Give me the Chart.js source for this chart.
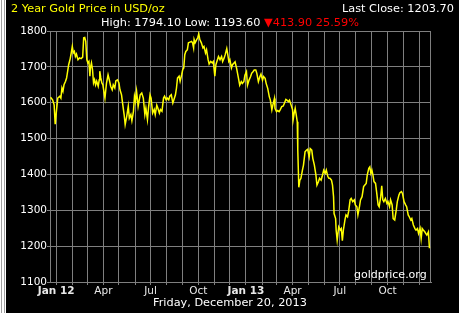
<!DOCTYPE html>
<html>
<head>
<meta charset="utf-8">
<script src="https://cdn.jsdelivr.net/npm/chart.js@4.4.1/dist/chart.umd.min.js"></script>
<style>
  html, body { margin: 0; padding: 0; background: #fff; }
  #wrap { position: relative; width: 459px; height: 313px; overflow: hidden; }
  #chart { position: absolute; left: 0; top: 0; }
  .txt { position: absolute; font-family: 'DejaVu Sans', Verdana, sans-serif; font-size: 11.3px; line-height: 1; white-space: nowrap; color: #fff; }
  .vline { position: absolute; top: 0; width: 1px; height: 313px; background: #a0a0a0; }
</style>
</head>
<body>
<div id="wrap">
  <canvas id="chart" width="459" height="313"></canvas>
  <div class="vline" style="left:1px"></div>
  <div class="vline" style="left:4px"></div>
  <div class="txt" id="title" style="left:11px;top:3px;color:#ffff00"></div>
  <div class="txt" id="lastClose" style="right:5px;top:3px"></div>
  <div class="txt" id="range" style="left:101px;top:17px"></div>
  <div class="txt" id="footer" style="left:153px;top:297px"></div>
  <div class="txt" id="source" style="left:354px;top:269px;font-size:11px"></div>
</div>
<script>
// texts
var titleText = '2 Year Gold Price in USD/oz';
var lastClose = '1203.70';
var highValue = '1794.10';
var lowValue = '1193.60';
var changeText = '413.90 25.59%';
var footerText = 'Friday, December 20, 2013';
var sourceText = 'goldprice.org';

// day offsets are counted from this date
var startDate = Date.UTC(2011, 11, 20);

// tick labels on the x axis, one per quarter
var quarterLabels = ['Jan 12', 'Apr', 'Jul', 'Oct', 'Jan 13', 'Apr', 'Jul', 'Oct'];
var yTicks = [1100, 1200, 1300, 1400, 1500, 1600, 1700, 1800];

// price data (day offset / USD per oz)
var daysA = [1, 5, 8, 10, 12, 15, 19, 21, 23, 25, 27, 30, 32, 33, 36, 39, 41, 43, 45, 47, 49, 51, 54, 57, 60,
    63, 65, 67, 69, 71, 73, 75, 77, 78, 80, 82, 84, 86, 88, 90, 93, 95, 96, 98, 100, 102, 106, 109, 112, 115,
    117, 120, 122, 125, 127, 130, 133, 135, 138, 140, 143, 145, 148, 151, 153, 156, 158, 161, 163, 165, 167, 170];
var pricesA = [1615, 1608, 1594, 1540, 1571, 1613, 1618, 1613, 1641, 1632, 1650, 1660, 1669, 1678, 1706, 1723,
    1739, 1757, 1739, 1743, 1729, 1736, 1720, 1725, 1723, 1727, 1781, 1782, 1771, 1720, 1711, 1715, 1674, 1697,
    1711, 1692, 1655, 1664, 1650, 1660, 1646, 1664, 1688, 1669, 1655, 1650, 1613, 1655, 1678, 1660, 1646, 1636,
    1650, 1641, 1661, 1664, 1655, 1636, 1622, 1599, 1567, 1539, 1562, 1590, 1557, 1567, 1550, 1576, 1618, 1604,
    1632, 1590];

var daysB = [174, 177, 180, 183, 185, 188, 190, 193, 195, 198, 201, 203, 206, 208, 211, 213, 216, 219, 221, 224,
    226, 229, 231, 234, 237, 239, 242, 244, 246, 249, 251, 254, 256, 258, 260, 262, 265, 267, 270, 273, 275, 277,
    278, 280, 283, 285, 287, 289, 292, 295, 297, 300, 302, 305, 307, 310, 313, 315, 318, 320, 323, 325, 328, 331,
    333, 336, 338, 341, 343, 345, 347, 350, 352, 355];
var pricesB = [1622, 1627, 1613, 1567, 1585, 1553, 1585, 1622, 1613, 1571, 1581, 1567, 1593, 1585, 1571, 1581,
    1576, 1613, 1618, 1608, 1613, 1608, 1618, 1622, 1599, 1608, 1622, 1641, 1669, 1674, 1660, 1678, 1692, 1697,
    1734, 1743, 1748, 1767, 1769, 1771, 1767, 1753, 1776, 1767, 1776, 1781, 1792, 1776, 1767, 1753, 1757, 1739,
    1748, 1720, 1708, 1715, 1711, 1715, 1674, 1706, 1720, 1729, 1720, 1729, 1715, 1725, 1734, 1751, 1734, 1715,
    1720, 1697, 1706, 1711];

var daysC = [357, 360, 363, 366, 369, 371, 374, 376, 379, 381, 384, 387, 389, 392, 394, 397, 399, 402, 405, 407,
    410, 412, 415, 417, 420, 423, 425, 428, 430, 433, 434, 437, 439, 442, 444, 447, 450, 452, 455, 457, 460, 462,
    465, 468, 469, 471, 473, 475, 477, 478, 480, 482, 484, 487, 489, 492, 495, 497, 500, 502, 505, 507, 510, 513,
    515, 518, 520, 523, 525, 528, 531, 533, 536, 538];
var pricesC = [1714, 1696, 1673, 1649, 1659, 1654, 1659, 1677, 1687, 1649, 1663, 1673, 1682, 1687, 1691, 1691,
    1682, 1659, 1673, 1680, 1663, 1673, 1668, 1654, 1640, 1617, 1608, 1580, 1594, 1612, 1584, 1575, 1578, 1575,
    1580, 1589, 1591, 1598, 1609, 1607, 1603, 1607, 1594, 1580, 1552, 1570, 1584, 1566, 1547, 1468, 1364, 1384,
    1389, 1412, 1426, 1463, 1468, 1470, 1449, 1472, 1468, 1445, 1426, 1398, 1370, 1380, 1389, 1384, 1394, 1412,
    1403, 1412, 1394, 1389];

var daysD = [540, 543, 545, 547, 548, 551, 552, 554, 557, 560, 562, 564, 566, 569, 571, 574, 576, 579, 581, 584,
    587, 589, 592, 594, 597, 599, 602, 605, 607, 610, 612, 615, 617, 619, 621, 623, 625, 628, 630, 633, 635, 638,
    640, 642, 644, 647, 650, 652, 655, 657, 660, 662, 665, 668, 670, 673, 675, 678, 680, 683, 686, 688, 691, 693,
    696, 698, 701, 704, 706, 709, 711, 714, 716, 718, 720, 723, 725, 727, 730, 732];
var pricesD = [1389, 1384, 1370, 1338, 1291, 1277, 1245, 1217, 1254, 1245, 1249, 1215, 1245, 1273, 1287, 1282,
    1296, 1329, 1333, 1324, 1329, 1315, 1310, 1287, 1310, 1329, 1338, 1366, 1370, 1375, 1398, 1417, 1421, 1403,
    1412, 1398, 1380, 1375, 1352, 1315, 1310, 1338, 1368, 1329, 1324, 1333, 1319, 1324, 1310, 1329, 1315, 1277,
    1273, 1301, 1324, 1342, 1349, 1352, 1347, 1324, 1315, 1310, 1287, 1282, 1273, 1277, 1259, 1249, 1245, 1249,
    1235, 1249, 1221, 1249, 1245, 1240, 1235, 1231, 1240, 1194];

var FONT = "'DejaVu Sans', Verdana, sans-serif";
var gridColor = '#7f7f7f';
var DAY = 86400000;

document.getElementById('title').textContent = titleText;
document.getElementById('lastClose').textContent = 'Last Close: ' + lastClose;
var range = document.getElementById('range');
range.textContent = 'High: ' + highValue + ' Low: ' + lowValue + ' ';
var chg = document.createElement('span');
chg.style.color = '#ff0000';
chg.textContent = '\u25BC' + changeText;
range.appendChild(chg);
document.getElementById('footer').textContent = footerText;
document.getElementById('source').textContent = sourceText;

// build points
var points = [];
[[daysA, pricesA], [daysB, pricesB], [daysC, pricesC], [daysD, pricesD]].forEach(function(pair) {
    pair[0].forEach(function(d, i) {
        points.push({x: d, y: pair[1][i]});
    });
});

// month starts Jan 2012 .. Dec 2013 for the grid
var monthTicks = [];
for (var m = 0; m < 24; m++) {
    monthTicks.push((Date.UTC(2012 + Math.floor(m / 12), m % 12, 1) - startDate) / DAY);
}

var framePlugin = {
    id: 'frame',
    beforeDraw: function(chart) {
        var ctx = chart.ctx;
        ctx.save();
        ctx.fillStyle = '#000';
        ctx.fillRect(6, 0, chart.width - 6, chart.height);
        ctx.restore();
    },
    beforeDatasetsDraw: function(chart) {
        var ctx = chart.ctx;
        var a = chart.chartArea;
        ctx.save();
        ctx.strokeStyle = gridColor;
        ctx.lineWidth = 1;
        ctx.beginPath();
        ctx.moveTo(Math.round(a.right) - 0.5, a.top);
        ctx.lineTo(Math.round(a.right) - 0.5, a.bottom);
        ctx.stroke();
        ctx.restore();
    }
};

new Chart(document.getElementById('chart'), {
    type: 'line',
    data: {
        datasets: [{
            data: points,
            borderColor: '#ffff00',
            borderWidth: 1.5,
            pointRadius: 0,
            tension: 0,
            fill: false
        }]
    },
    options: {
        responsive: false,
        animation: false,
        devicePixelRatio: 1,
        layout: {padding: {top: 31, right: 28, bottom: 0, left: 0}},
        plugins: {legend: {display: false}, tooltip: {enabled: false}},
        scales: {
            x: {
                type: 'linear',
                min: 0,
                max: 735,
                afterBuildTicks: function(scale) {
                    scale.ticks = monthTicks.map(function(v) { return {value: v}; });
                },
                afterFit: function(scale) { scale.height = 31; },
                grid: {color: gridColor, lineWidth: 1, tickLength: 3},
                border: {color: gridColor},
                ticks: {
                    autoSkip: false,
                    maxRotation: 0,
                    padding: 0,
                    color: '#e8e8e8',
                    font: function(ctx) {
                        var bold = ctx.index % 12 === 0;
                        return {family: FONT, size: 10.5, weight: bold ? 'bold' : 'normal'};
                    },
                    callback: function(value, index) {
                        return index % 3 === 0 ? quarterLabels[index / 3] : '';
                    }
                }
            },
            y: {
                min: 1100,
                max: 1800,
                afterBuildTicks: function(scale) {
                    scale.ticks = yTicks.map(function(v) { return {value: v}; });
                },
                afterFit: function(scale) { scale.width = 50; },
                grid: {color: gridColor, lineWidth: 1, tickLength: 3},
                border: {color: gridColor},
                ticks: {
                    padding: 0,
                    color: '#ffffff',
                    font: {family: FONT, size: 10.5},
                    callback: function(value) { return String(value); }
                }
            }
        }
    },
    plugins: [framePlugin]
});
</script>
</body>
</html>
